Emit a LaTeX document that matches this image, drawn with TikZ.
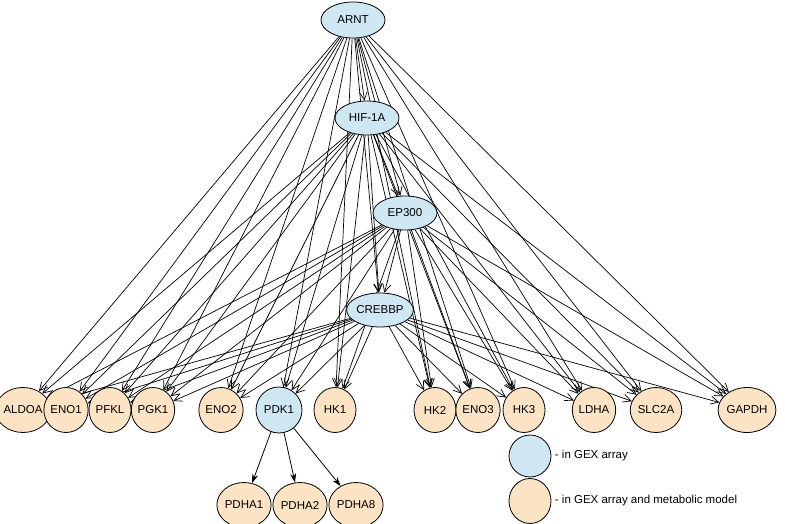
\documentclass[tikz,border=0pt]{standalone}
\usepackage{fontspec}
\setmainfont{Liberation Sans}
\usetikzlibrary{arrows.meta,shapes.geometric,backgrounds}
\definecolor{gexblue}{HTML}{CFE6F3}
\definecolor{metab}{HTML}{FBE3C4}
\tikzset{
  gex/.style={ellipse, draw, line width=0.8pt, fill=gexblue, font=\fontsize{11.5}{13}\selectfont, inner sep=0pt},
  met/.style={ellipse, draw, line width=0.8pt, fill=metab, minimum width=42pt, minimum height=45pt, inner sep=0pt, font=\fontsize{11.5}{13}\selectfont},
  reg/.style={-{Straight Barb[length=8pt,width=8pt]}, line width=0.7pt},
  fil/.style={-{Stealth[length=9pt,width=6pt]}, line width=0.8pt}
}
\begin{document}
\begin{tikzpicture}[x=1pt,y=-1pt]
\useasboundingbox (0,0) rectangle (785,524);
\node[gex, minimum width=64pt, minimum height=36pt] (ARNT) at (353,20) {ARNT};
\node[gex, minimum width=64pt, minimum height=34pt] (HIF) at (367,118) {HIF-1A};
\node[gex, minimum width=64pt, minimum height=34pt] (EP) at (405,213) {EP300};
\node[gex, minimum width=64pt, minimum height=34pt] (CR) at (380,310) {CREBBP};
\foreach \n/\x in {ALDOA/23,ENO1/66,PFKL/110,PGK1/153,ENO2/221,HK1/335,HK2/435,ENO3/478,HK3/524,LDHA/594,SLC2A/656,GAPDH/747}
  \node[met] (\n) at (\x,410) {\n};
\node[gex, minimum width=46pt, minimum height=46pt] (PDK1) at (279,410) {PDK1};
\foreach \n/\x in {PDHA1/244,PDHA2/300,PDHA8/356}
  \node[met] (\n) at (\x,505) {\n};
\begin{pgfonlayer}{background}
\draw[reg] (ARNT) -- (HIF);
\draw[reg] (ARNT) -- (EP);
\draw[reg] (ARNT) -- (CR);
\draw[reg] (HIF) -- (EP);
\draw[reg] (HIF) -- (CR);
\draw[reg] (EP) -- (CR);
\foreach \s in {ARNT,HIF,EP,CR}
  \foreach \t in {ALDOA,ENO1,PFKL,PGK1,ENO2,PDK1,HK1,HK2,ENO3,HK3,LDHA,SLC2A,GAPDH}
    \draw[reg] (\s) -- (\t);
\foreach \t in {PDHA1,PDHA2,PDHA8}
  \draw[fil] (PDK1) -- (\t);
\end{pgfonlayer}
% legend
\node[gex, minimum width=42pt, minimum height=42pt] (lg1) at (530,456) {};
\node[anchor=west, font=\fontsize{11.5}{13}\selectfont] (lt1) at (lg1.east) {- in GEX array};
\node[met] (lg2) at (530,501) {};
\node[anchor=west, font=\fontsize{11.5}{13}\selectfont] (lt2) at (lg2.east) {- in GEX array and metabolic model};
\end{tikzpicture}
\end{document}
